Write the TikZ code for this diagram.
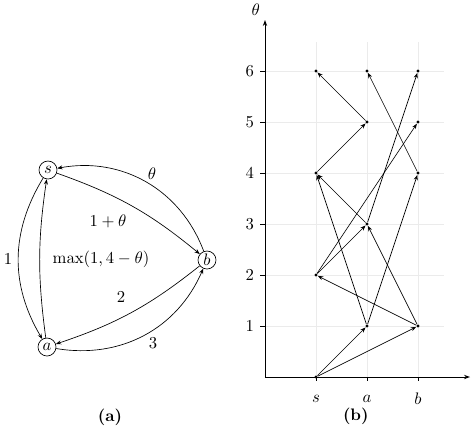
\documentclass[tikz,border=0pt]{standalone}
\usetikzlibrary{arrows.meta}
\begin{document}
\begin{tikzpicture}[x=0.6pt,y=-0.6pt,
  vertex/.style={circle,draw,inner sep=0pt,minimum size=10.8pt,line width=0.4pt},
  edge/.style={-{Stealth[length=3.2pt,width=2.4pt]},line width=0.4pt},
  pt/.style={circle,fill,inner sep=0pt,minimum size=2pt},
  gridline/.style={black!8,line width=0.4pt},
  axis/.style={-{Stealth[length=3.6pt,width=2.6pt]},line width=0.6pt},
  tick/.style={line width=0.5pt}
]
\useasboundingbox (0,0) rectangle (474,427);
% ---------- (a) ----------
\node[vertex] (s) at (48,170) {$s$};
\node[vertex] (a) at (47,347) {$a$};
\node[vertex] (b) at (207,260) {$b$};
\draw[edge] (s) to[bend right=31] (a);
\draw[edge] (a) to[bend left=8] (s);
\draw[edge] (s) to[bend left=10] (b);
\draw[edge] (b) to[bend right=40] (s);
\draw[edge] (b) to[bend left=10] (a);
\draw[edge] (a) to[bend right=38] (b);
\node (l1) at (8,259) {$1$};
\node (lmax) at (101,259) {$\max(1,4-\theta)$};
\node (lsb) at (108,221) {$1+\theta$};
\node (lbs) at (152,174) {$\theta$};
\node (lba) at (121,297) {$2$};
\node (lab) at (153,343) {$3$};
\node (capa) at (110,417) {\textbf{(a)}};
% ---------- (b) ----------
\begin{scope}[shift={(265,377)},x=30.6pt,y=30.6pt]
  \foreach \yy in {1,...,6} \draw[gridline] (0,\yy) -- (3.5,\yy);
  \foreach \xx in {1,2,3} \draw[gridline] (\xx,0) -- (\xx,6.57);
  \coordinate (o) at (0,0);
  \coordinate (xend) at (4.02,0);
  \coordinate (yend) at (0,7.0);
  \draw[axis] (o) -- (xend);
  \draw[axis] (o) -- (yend);
  \foreach \yy in {1,...,6} \draw[tick] (0,\yy) -- (-0.1,\yy) node[left] {$\yy$};
  \foreach \xx in {1,2,3} \draw[tick] (\xx,0) -- (\xx,-0.08);
  \node (xs) at (1,-0.43) {$s$};
  \node (xa) at (2,-0.43) {$a$};
  \node (xb) at (3,-0.43) {$b$};
  \node (th) at (-0.18,7.2) {$\theta$};
  \node (capb) at (1.78,-0.78) {\textbf{(b)}};
  % nodes
  \node[pt] (s0) at (1,0) {};
  \node[pt] (s2) at (1,2) {};
  \node[pt] (s4) at (1,4) {};
  \node[pt] (s6) at (1,6) {};
  \node[pt] (a1) at (2,1) {};
  \node[pt] (a3) at (2,3) {};
  \node[pt] (a5) at (2,5) {};
  \node[pt] (a6) at (2,6) {};
  \node[pt] (b1) at (3,1) {};
  \node[pt] (b4) at (3,4) {};
  \node[pt] (b5) at (3,5) {};
  \node[pt] (b6) at (3,6) {};
  % arcs
  \draw[edge] (s0) -- (a1);
  \draw[edge] (s0) -- (b1);
  \draw[edge] (a1) -- (s4);
  \draw[edge] (a1) -- (b4);
  \draw[edge] (b1) -- (s2);
  \draw[edge] (b1) -- (a3);
  \draw[edge] (s2) -- (a3);
  \draw[edge] (s2) -- (b5);
  \draw[edge] (a3) -- (s4);
  \draw[edge] (a3) -- (b6);
  \draw[edge] (s4) -- (a5);
  \draw[edge] (b4) -- (a6);
  \draw[edge] (a5) -- (s6);
\end{scope}
\end{tikzpicture}
\end{document}
